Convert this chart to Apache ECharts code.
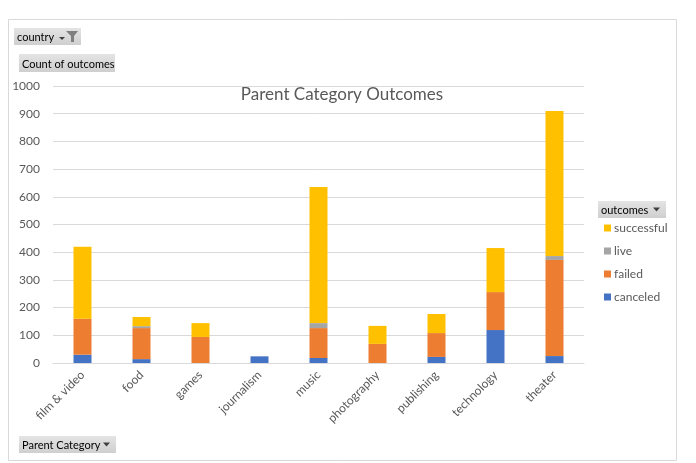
<!DOCTYPE html>
<html>
<head>
<meta charset="utf-8">
<script src="https://cdn.jsdelivr.net/npm/echarts@6/dist/echarts.min.js"></script>
<style>html,body{margin:0;padding:0;background:#fff;}#c{width:696px;height:463px;}</style>
</head>
<body>
<div id="c"></div>
<script>
const categories = ['film & video','food','games','journalism','music','photography','publishing','technology','theater'];
const canceled   = [30, 14, 0, 24, 18, 0, 22, 119, 25];
const failed     = [130, 112, 94, 0, 108, 69, 86, 137, 347];
const live       = [0, 7, 0, 0, 18, 0, 0, 0, 14];
const successful = [260, 33, 50, 0, 491, 65, 69, 159, 524];
const yTicks = {min: 0, max: 1000, interval: 100};

const FONT = 'Lato, "Open Sans", sans-serif';
const grad = {type:'linear',x:0,y:0,x2:0,y2:1,colorStops:[{offset:0,color:'#e4e4e4'},{offset:1,color:'#cfcfcf'}]};
function button(x, y, w, h, label, arrow) {
  const els = [
    {type:'rect', shape:{x:x,y:y,width:w,height:h}, style:{fill:grad}},
    {type:'text', style:{x:x+3,y:y+h/2+1,text:label,fill:'#000',font:'11px '+FONT,verticalAlign:'middle'}}
  ];
  if (arrow) {
    els.push({type:'polygon', shape:{points:[[x+w-13,y+h/2-2],[x+w-6,y+h/2-2],[x+w-9.5,y+h/2+2]]}, style:{fill:'#404040'}});
  }
  return els;
}
const graphics = [].concat(
  [{type:'rect', shape:{x:8.5,y:19.5,width:668,height:441}, style:{fill:'none',stroke:'#d9d9d9',lineWidth:1}}],
  button(14, 28, 67, 17, 'country', false),
  [{type:'polygon', shape:{points:[[59,37],[65,37],[62,40]]}, style:{fill:'#404040'}},
   {type:'polygon', shape:{points:[[66,31],[78,31],[74,36],[74,42],[71,42],[71,36]]}, style:{fill:'#7f7f7f'}}],
  button(19, 54, 96, 18, 'Count of outcomes', false),
  button(19, 436, 97, 17, 'Parent Category', true),
  button(598, 201, 68, 17, 'outcomes', true),
  [{type:'text', style:{x:342, y:95, text:'Parent Category Outcomes', fill:'#595959', font:'17px '+FONT, align:'center', verticalAlign:'middle'}}]
);

const chart = echarts.init(document.getElementById('c'));
chart.setOption({
  animation: false,
  grid: {left: 53, right: 112, top: 86, bottom: 100},
  legend: {
    data: ['successful','live','failed','canceled'],
    orient: 'vertical', left: 599, top: 217, itemWidth: 7, itemHeight: 7, itemGap: 11,
    icon: 'rect', textStyle:{fontFamily:FONT, fontSize:12, color:'#595959', padding:[0,0,0,-2]}
  },
  xAxis: {
    type: 'category', data: categories,
    axisLine: {lineStyle:{color:'#d9d9d9'}}, axisTick: {show:false},
    axisLabel: {rotate: 45, interval: 0, fontFamily: FONT, fontSize: 12, color:'#595959', margin: 10}
  },
  yAxis: {
    type: 'value', min: yTicks.min, max: yTicks.max, interval: yTicks.interval,
    axisLine: {show:false}, axisTick: {show:false},
    splitLine: {lineStyle:{color:'#d9d9d9'}},
    axisLabel: {fontFamily: FONT, fontSize: 12, color:'#595959', margin: 13, formatter: v => String(v)}
  },
  series: [
    {name:'canceled', type:'bar', stack:'a', data: canceled, itemStyle:{color:'#4472C4'}, barWidth: 18},
    {name:'failed', type:'bar', stack:'a', data: failed, itemStyle:{color:'#ED7D31'}, barWidth: 18},
    {name:'live', type:'bar', stack:'a', data: live, itemStyle:{color:'#A5A5A5'}, barWidth: 18},
    {name:'successful', type:'bar', stack:'a', data: successful, itemStyle:{color:'#FFC000'}, barWidth: 18}
  ],
  graphic: graphics
});
</script>
</body>
</html>
